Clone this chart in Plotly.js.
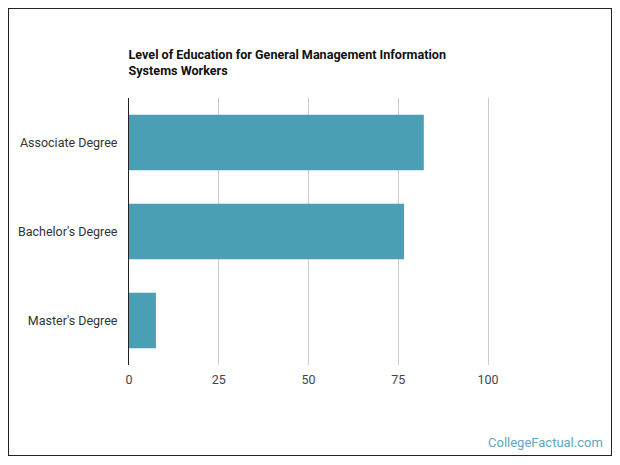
<!DOCTYPE html>
<html>
<head>
<meta charset="utf-8">
<script src="https://cdn.plot.ly/plotly-3.0.1.min.js"></script>
<style>
html,body{margin:0;padding:0;background:#fff;}
#wrap{position:relative;width:620px;height:465px;}
#chart{width:620px;height:465px;}
#frame{position:absolute;left:8px;top:8px;width:602px;height:446px;border:1px solid #222;pointer-events:none;}
</style>
</head>
<body>
<div id="wrap"><div id="chart"></div><div id="frame"></div></div>
<script>
const categories = ["Associate Degree", "Bachelor's Degree", "Master's Degree"];
const values = [82.1, 76.6, 7.5];
const tickVals = [0, 25, 50, 75, 100];

const trace = {
  type: 'bar',
  orientation: 'h',
  x: values,
  y: categories,
  marker: {color: '#4a9fb4'},
  hoverinfo: 'none'
};

const layout = {
  width: 620,
  height: 465,
  margin: {l: 129, r: 620 - 129 - 110 * 3.59, t: 98, b: 100},
  paper_bgcolor: '#fff',
  plot_bgcolor: '#fff',
  showlegend: false,
  bargap: 0.374,
  font: {family: 'Roboto, "Open Sans", sans-serif', color: '#333'},
  title: {
    text: '<b>Level of Education for General Management Information<br>Systems Workers</b>',
    x: 128.5 / 620, xanchor: 'left', xref: 'container',
    y: 1 - 59 / 465, yanchor: 'top', yref: 'container',
    font: {size: 12.6, color: '#111', family: 'Roboto, sans-serif'}
  },
  xaxis: {
    range: [0, 110],
    tickvals: tickVals,
    ticktext: tickVals.map(String),
    showgrid: true,
    gridcolor: '#cccccc',
    gridwidth: 1,
    zeroline: false,
    showline: false,
    ticks: '',
    ticklen: 0,
    ticklabelstandoff: 5,
    tickfont: {size: 12.5, color: '#444'},
    fixedrange: true
  },
  yaxis: {
    autorange: 'reversed',
    showline: true,
    linecolor: '#222',
    linewidth: 1,
    showgrid: false,
    zeroline: false,
    ticks: '',
    ticklabelstandoff: 8,
    tickfont: {size: 12.5, color: '#333'},
    fixedrange: true
  },
  annotations: [{
    text: 'CollegeFactual.com',
    xref: 'paper', yref: 'paper',
    x: (605 - 129) / (110 * 3.59), xanchor: 'right',
    y: -(442 - 365) / 267, yanchor: 'middle',
    showarrow: false,
    font: {size: 13, color: '#5ea7c1', family: 'Roboto, sans-serif'}
  }]
};

Plotly.newPlot('chart', [trace], layout, {displayModeBar: false, staticPlot: true});
</script>
</body>
</html>
